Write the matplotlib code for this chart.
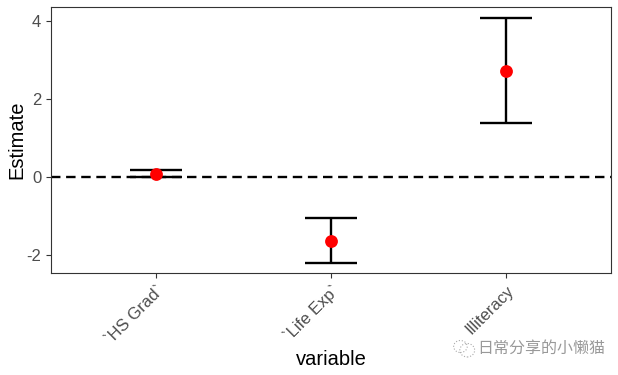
import matplotlib.pyplot as plt
from matplotlib.patches import Ellipse

# coefficient estimates with confidence bounds
variables = ['`HS Grad`', '`Life Exp`', 'Illiteracy']
estimate = [0.08, -1.65, 2.73]
lower = [-0.01, -2.2, 1.38]
upper = [0.19, -1.06, 4.08]

plt.rcParams['font.family'] = ['Liberation Sans', 'DejaVu Sans']
plt.rcParams['axes.unicode_minus'] = False

fig = plt.figure(figsize=(6.18, 3.75), dpi=100)
ax = fig.add_axes([51 / 618, 102 / 375, 560 / 618, 266 / 375])

x = list(range(1, len(variables) + 1))
ax.axhline(0, color='black', lw=1.7, ls=(0, (4, 2.4)), zorder=1)
for xi, lo, hi in zip(x, lower, upper):
    ax.vlines(xi, lo, hi, color='black', lw=1.7, zorder=2)
    ax.hlines([lo, hi], xi - 0.15, xi + 0.15, color='black', lw=1.7, zorder=2)
ax.scatter(x, estimate, s=85, color='red', zorder=3, linewidths=0)

ax.set_xlim(0.4, 3.6)
ax.set_ylim(-2.46, 4.36)
ax.set_yticks([-2, 0, 2, 4])
ax.set_xticks(x)
ax.set_xticklabels(variables, rotation=45, ha='right', va='top', rotation_mode='anchor')
ax.tick_params(colors='#333333', labelcolor='#4D4D4D', labelsize=12, length=3.5, width=0.8)
for s in ax.spines.values():
    s.set_color('#333333')
    s.set_linewidth(0.8)

ax.set_xlabel('variable', fontsize=14.5, color='black', labelpad=2)
ax.set_ylabel('Estimate', fontsize=14.5, color='black', labelpad=0)

# watermark
fig.text(0.773, 0.071, '日常分享的小懒猫', fontsize=11.5, color='#999999',
         family=['Noto Sans CJK SC', 'DejaVu Sans'], va='center')
fig.patches.append(Ellipse((0.745, 0.076), 0.022, 0.032, transform=fig.transFigure,
                           fill=False, ec='#AAAAAA', lw=0.8, ls=':'))
fig.patches.append(Ellipse((0.756, 0.066), 0.024, 0.036, transform=fig.transFigure,
                           fill=False, ec='#AAAAAA', lw=0.8, ls=':'))

fig.savefig('out.png', dpi=100)
